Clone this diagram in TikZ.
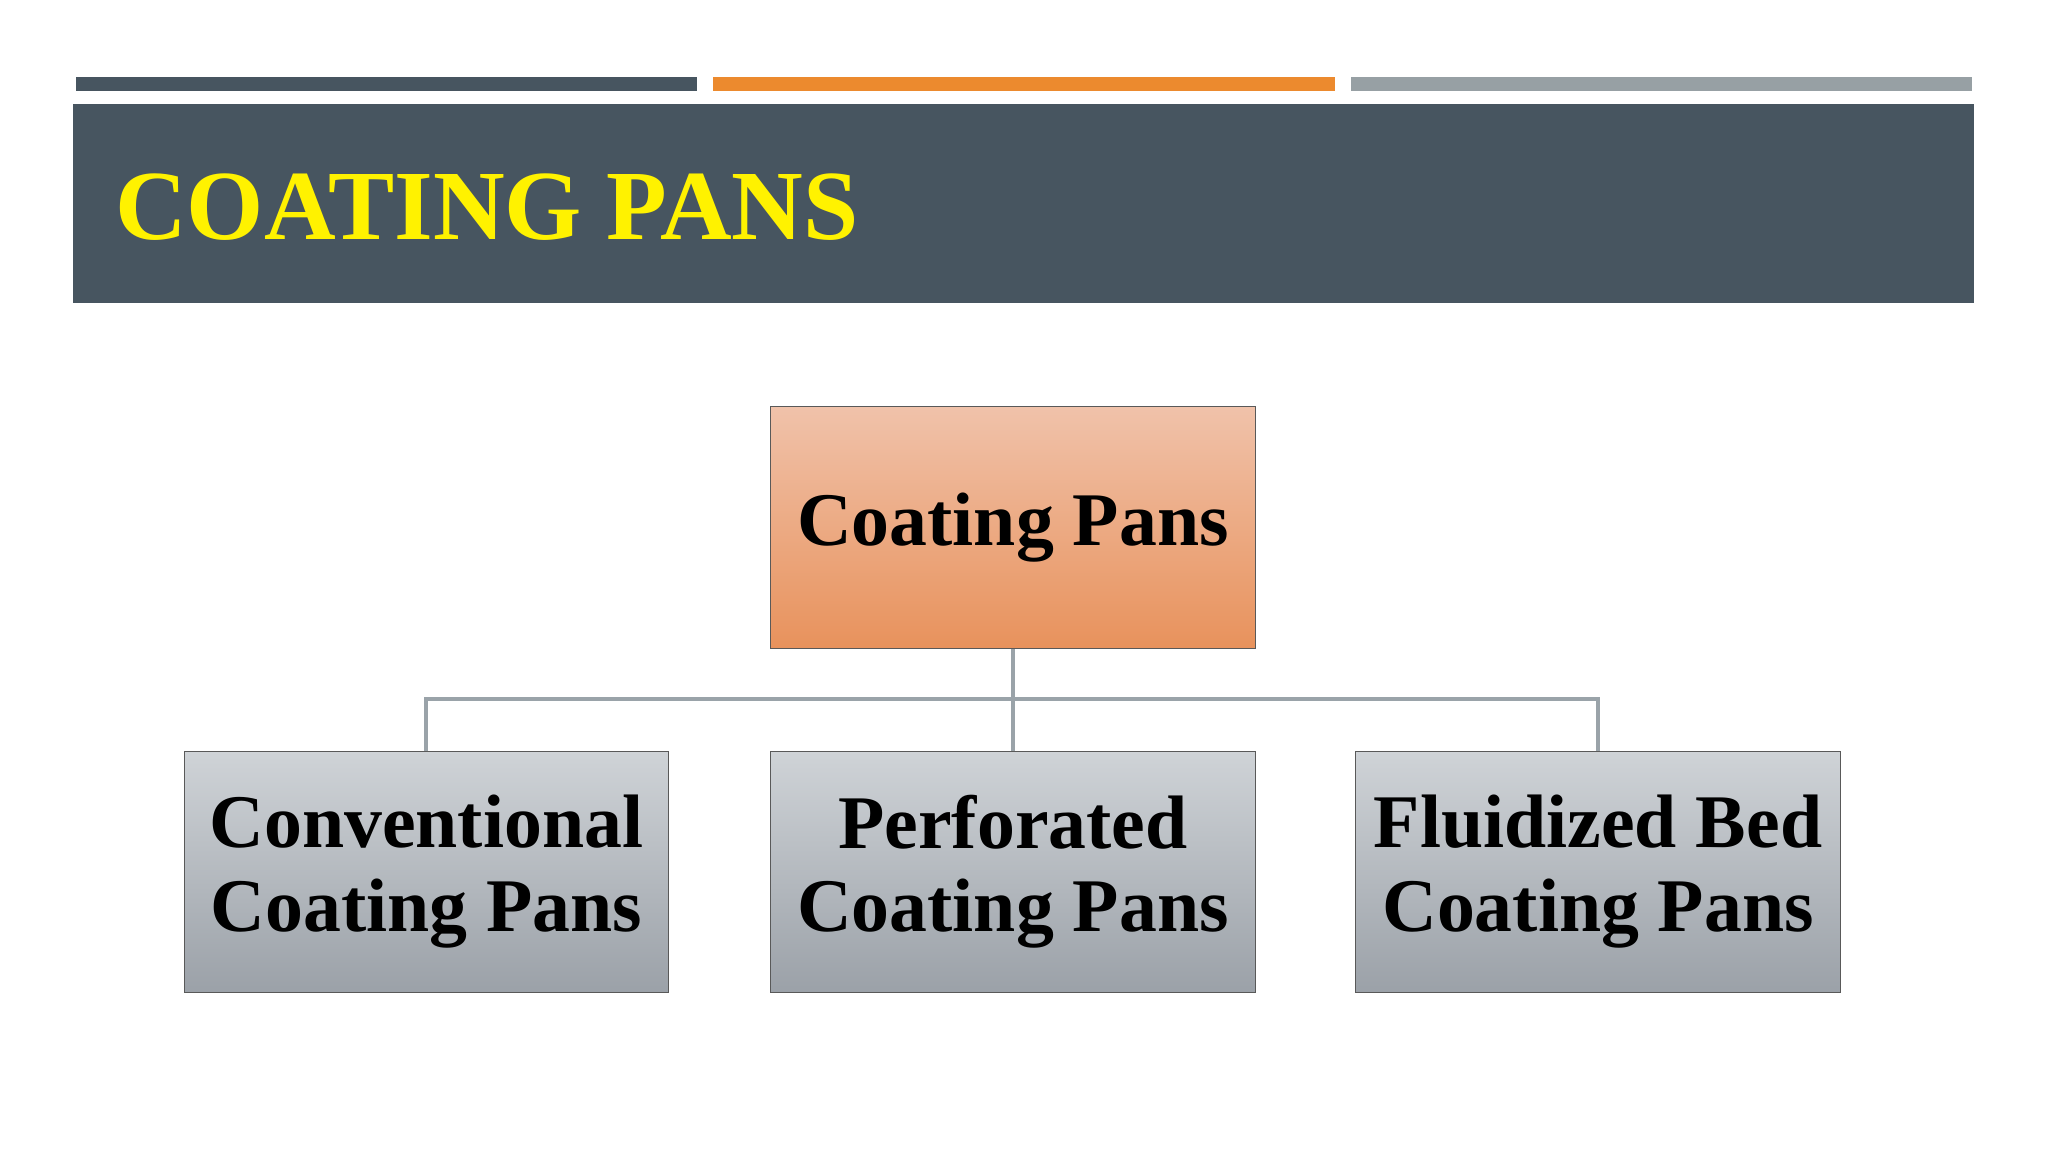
\documentclass[tikz,border=0pt]{standalone}
\usepackage{fontspec}
\setmainfont{Liberation Serif}
\begin{document}
\begin{tikzpicture}[x=1pt,y=-1pt,
  boxbase/.style={draw=gray!70!black,line width=0.8pt,minimum width=371pt,minimum height=185pt,inner sep=0pt,align=center,font=\fontsize{58}{64}\selectfont\bfseries},
  topbox/.style={boxbase,top color=orange!25!white!60!orange!70,bottom color=orange!70!brown!30!white,shading angle=0},
  subbox/.style={boxbase,top color=gray!35!white,bottom color=gray!70!white},
  link/.style={draw=gray!60!cyan!20!gray,line width=3pt}]
\definecolor{hdr}{HTML}{475560}
\definecolor{org}{HTML}{EC8A2E}
\definecolor{gr}{HTML}{97A0A4}
\definecolor{ttop}{HTML}{F0C2AA}
\definecolor{tbot}{HTML}{E8925C}
\definecolor{gtop}{HTML}{CFD3D7}
\definecolor{gbot}{HTML}{9BA1A8}
\definecolor{lnk}{HTML}{9AA3A9}
\useasboundingbox (0,0) rectangle (1568,882);
\fill[white] (0,0) rectangle (1568,882);
\fill[hdr] (58,59) rectangle (534,70);
\fill[org] (546,59) rectangle (1022,70);
\fill[gr] (1034,59) rectangle (1510,70);
\fill[hdr] (56,80) rectangle (1511,232);
\node[anchor=base west,text=yellow,inner sep=0pt,font=\fontsize{76}{80}\selectfont\bfseries] (title) at (88,183) {COATING PANS};
\node[boxbase,top color=ttop,bottom color=tbot] (top) at (775.5,404) {Coating Pans};
\node[boxbase,top color=gtop,bottom color=gbot] (a) at (326.5,667.5) {Conventional\\Coating Pans};
\node[boxbase,top color=gtop,bottom color=gbot] (b) at (775.5,667.5) {Perforated\\Coating Pans};
\node[boxbase,top color=gtop,bottom color=gbot] (c) at (1223.5,667.5) {Fluidized Bed\\Coating Pans};
\coordinate (j) at (775.5,535);
\draw[draw=lnk,line width=3pt] (top.south) -- (b.north);
\draw[draw=lnk,line width=3pt] (a.north) |- (j) -| (c.north);
\end{tikzpicture}
\end{document}
